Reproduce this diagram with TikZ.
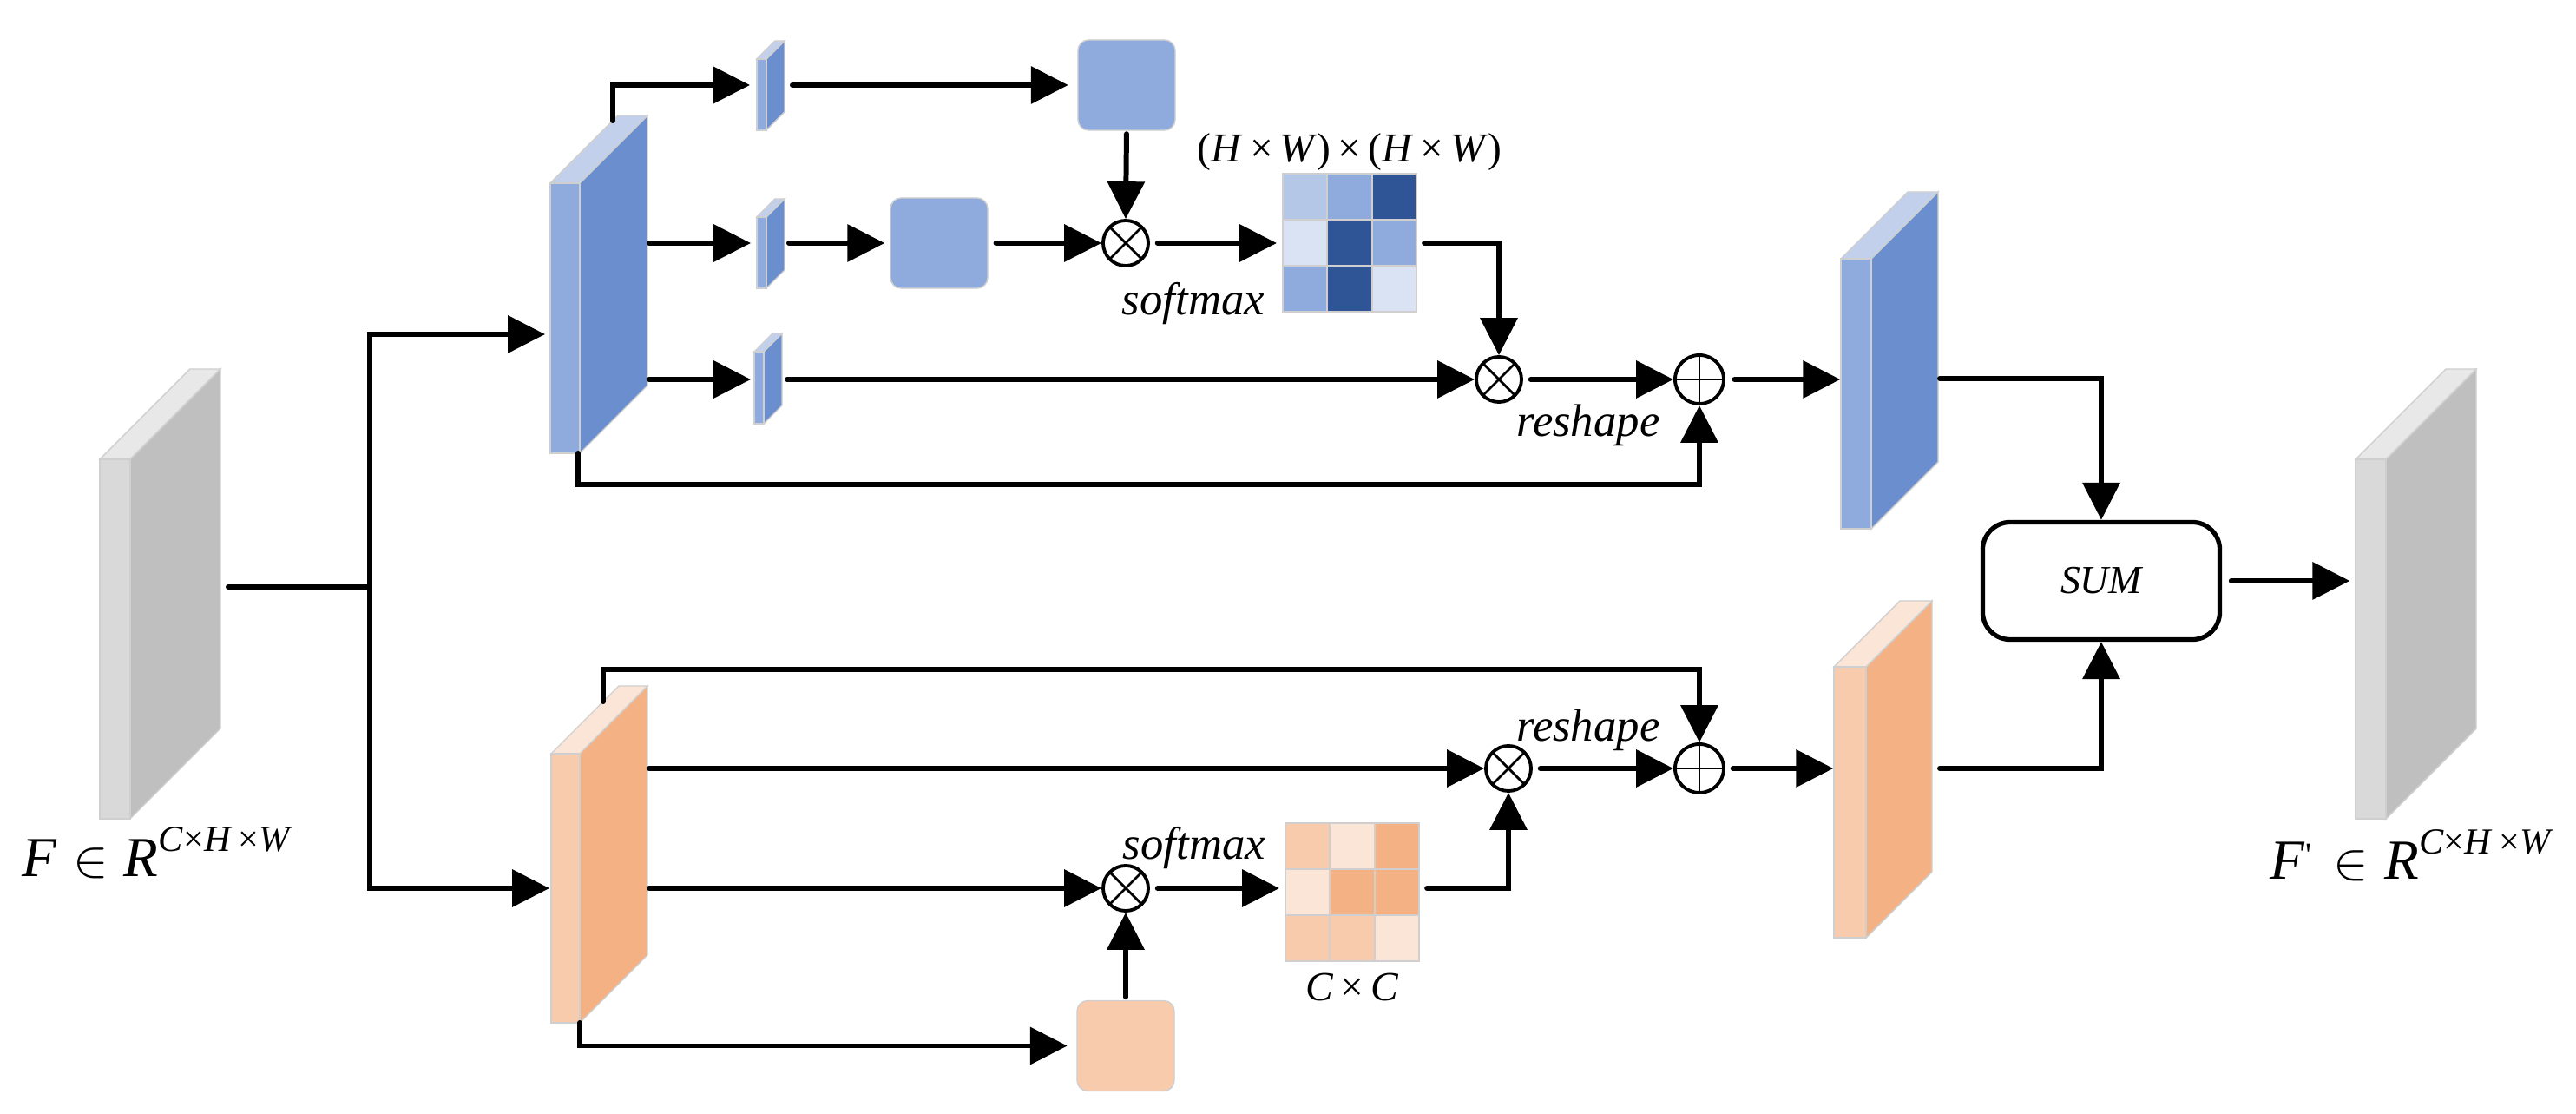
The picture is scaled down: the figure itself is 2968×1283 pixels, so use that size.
\documentclass[tikz,border=0pt]{standalone}
\usepackage{fontspec}
\setmainfont{Liberation Serif}
\usetikzlibrary{arrows.meta,fit,calc}
\definecolor{gF}{HTML}{D9D9D9}\definecolor{gS}{HTML}{BFBFBF}\definecolor{gT}{HTML}{E8E8E8}
\definecolor{bF}{HTML}{8FAADC}\definecolor{bS}{HTML}{6B8ECF}\definecolor{bT}{HTML}{C2D0EC}
\definecolor{oF}{HTML}{F8CBAD}\definecolor{oS}{HTML}{F4B183}\definecolor{oT}{HTML}{FBE5D6}
\definecolor{bD}{HTML}{2F5597}\definecolor{bL}{HTML}{DAE3F3}\definecolor{bM}{HTML}{B4C7E7}
\definecolor{edgec}{HTML}{CFCFCF}\definecolor{gridc}{HTML}{D0CECE}
% slab: name, x1, x2, ytop, ybottom, depth, front, side, top
\newcommand{\slab}[9]{%
  \fill[#8, draw=edgec, line width=0.4pt] (#3,#4) -- (#3+#6,#4-#6) -- (#3+#6,#5-#6) -- (#3,#5) -- cycle;
  \fill[#9, draw=edgec, line width=0.4pt] (#2,#4) -- (#2+#6,#4-#6) -- (#3+#6,#4-#6) -- (#3,#4) -- cycle;
  \node[fit={(#2,#4) (#3,#5)}, inner sep=0pt, fill=#7, draw=edgec, line width=0.4pt] (#1) {};
  \coordinate (#1-r) at (#3+#6,#5);
}
\newcommand{\mcell}[3]{\fill[#3, draw=gridc, line width=0.6pt] (#1,#2) rectangle ++(51.3,53);}
\begin{document}
\begin{tikzpicture}[x=0.01cm, y=-0.01cm,
  ln/.style={line width=1.7pt, line cap=round},
  arr/.style={line width=1.7pt, line cap=round, -{Triangle[length=12.2pt,width=12pt]}},
  otimes/.style={circle, draw, fill=white, line width=1.1pt, minimum size=0.52cm, inner sep=0pt,
    path picture={\draw[line width=0.8pt] (path picture bounding box.north west) -- (path picture bounding box.south east)
      (path picture bounding box.north east) -- (path picture bounding box.south west);}},
  oplus/.style={circle, draw, fill=white, line width=1.1pt, minimum size=0.56cm, inner sep=0pt,
    path picture={\draw[line width=0.8pt] (path picture bounding box.north) -- (path picture bounding box.south)
      (path picture bounding box.west) -- (path picture bounding box.east);}},
  bbox/.style={rounded corners=3.5pt, minimum width=1.12cm, minimum height=1.04cm, inner sep=0pt, draw=edgec, line width=0.4pt},
  lbl/.style={inner sep=0pt, font=\fontsize{15pt}{16pt}\selectfont\itshape},
  dim/.style={inner sep=0pt, font=\fontsize{13.5pt}{14pt}\selectfont},
]
\useasboundingbox (0,0) rectangle (2968,1283);

% ---------- slabs ----------
\slab{gin}{115}{150}{529}{943}{104}{gF}{gS}{gT}
\slab{B1}{634}{668}{211}{522}{78}{bF}{bS}{bT}
\slab{s1}{872}{883}{68}{150}{21}{bF}{bS}{bT}
\slab{s2}{872}{883}{250}{332}{21}{bF}{bS}{bT}
\slab{s3}{869}{880}{405}{488}{21}{bF}{bS}{bT}
\slab{B2}{2121}{2156}{298}{609}{77}{bF}{bS}{bT}
\slab{O1}{635}{668}{868}{1178}{78}{oF}{oS}{oT}
\slab{O2}{2113}{2150}{768}{1080}{76}{oF}{oS}{oT}
\slab{gout}{2714}{2749}{529}{943}{104}{gF}{gS}{gT}

% ---------- boxes ----------
\node[bbox, fill=bF] (q1) at (1298,98) {};
\node[bbox, fill=bF] (q2) at (1082,280) {};
\node[bbox, fill=oF] (q3) at (1297,1204.5) {};

% ---------- matrices ----------
\mcell{1478}{200}{bM}\mcell{1529.3}{200}{bF}\mcell{1580.6}{200}{bD}
\mcell{1478}{253}{bL}\mcell{1529.3}{253}{bD}\mcell{1580.6}{253}{bF}
\mcell{1478}{306}{bF}\mcell{1529.3}{306}{bD}\mcell{1580.6}{306}{bL}
\node[fit={(1478,200) (1632,359)}, inner sep=0pt, draw=gridc, line width=0.6pt] (A1) {};
\mcell{1481}{948}{oF}\mcell{1532.3}{948}{oT}\mcell{1583.6}{948}{oS}
\mcell{1481}{1001}{oT}\mcell{1532.3}{1001}{oS}\mcell{1583.6}{1001}{oS}
\mcell{1481}{1054}{oF}\mcell{1532.3}{1054}{oF}\mcell{1583.6}{1054}{oT}
\node[fit={(1481,948) (1635,1107)}, inner sep=0pt, draw=gridc, line width=0.6pt] (A2) {};

% ---------- operators ----------
\node[otimes] (m1) at (1297,280) {};
\node[otimes] (m2) at (1727,437) {};
\node[oplus]  (p1) at (1958,437) {};
\node[otimes] (m3) at (1297,1023) {};
\node[otimes] (m4) at (1738,885) {};
\node[oplus]  (p2) at (1958,885) {};

\node[draw, line width=1.5pt, rounded corners=9pt, minimum width=2.73cm, minimum height=1.35cm, inner sep=0pt,
  font=\fontsize{13pt}{14pt}\selectfont\itshape] (sum) at (2421,669) {SUM};

% ---------- labels ----------
\node[dim] (t1) at (1555,175) {(\textit{H}\,×\,\textit{W})\,×\,(\textit{H}\,×\,\textit{W})};
\node[lbl] (sm1) at (1375,350) {softmax};
\node[lbl] (rs1) at (1830,490) {reshape};
\node[lbl] (sm2) at (1376,977) {softmax};
\node[lbl] (rs2) at (1830,841) {reshape};
\node[dim] (t2) at (1558,1137) {\textit{C}\,×\,\textit{C}};
\node[anchor=base west, inner sep=0pt] (fin) at (25,1010) {\fontsize{18.5pt}{20pt}\selectfont\textit{F}\hspace{0.28em}$\in$\hspace{0.28em}\textit{R}\raisebox{8.5pt}{\fontsize{12pt}{12pt}\selectfont\textit{C}×\textit{H}\,×\textit{W}}};
\node[anchor=base west, inner sep=0pt] (fout) at (2615,1013) {\fontsize{18.5pt}{20pt}\selectfont\textit{F}\raisebox{4.5pt}{\fontsize{11pt}{11pt}\selectfont\textquotesingle}\hspace{0.4em}$\in$\hspace{0.28em}\textit{R}\raisebox{8.5pt}{\fontsize{12pt}{12pt}\selectfont\textit{C}×\textit{H}\,×\textit{W}}};

% ---------- connectors ----------
\coordinate (split) at (426,676);
\draw[ln] (gin-r |- split) ++(9,0) -- (split);
\draw[arr] (split) |- (628,385);
\draw[arr] (split) |- (633,1023);
% position branch
\draw[arr] (706,139) |- (864,98);
\draw[arr] (748,280) -- (865,280);
\draw[arr] (748,437) -- (865,437);
\draw[arr, shorten >=3pt] (913,98) -- (q1.west);
\draw[arr, shorten >=1.7pt] (909,280) -- (q2.west);
\draw[arr, shorten <=2.5pt] (q2.east) -- (m1.west);
\draw[arr, shorten <=1pt] (q1.south) -- (m1.north);
\draw[arr, shorten <=2.5pt, shorten >=1.7pt] (m1.east) -- (A1.west |- m1.east);
\draw[arr, shorten <=2.3pt] (A1.east |- m1.east) -| (m2.north);
\draw[arr] (907,437) -- (m2.west);
\draw[arr, shorten <=2.5pt] (m2.east) -- (p1.west);
\draw[arr] (666,522) -- (666,558) -| (p1.south);
\draw[arr, shorten <=3pt] (p1.east) -- (B2.west |- p1.east);
\draw[arr] (2235,436) -| (sum.north);
% channel branch
\draw[arr] (695,808) -- (695,771) -| (p2.north);
\draw[arr] (748,885) -- (m4.west);
\draw[arr] (748,1023) -- (m3.west);
\draw[arr, shorten >=3pt] (668,1178) |- (q3.west);
\draw[arr, shorten <=1pt] (q3.north) -- (m3.south);
\draw[arr, shorten <=2.5pt, shorten >=1.7pt] (m3.east) -- (A2.west |- m3.east);
\draw[arr, shorten <=2.3pt] (A2.east |- m3.east) -| (m4.south);
\draw[arr, shorten <=2.5pt] (m4.east) -- (p2.west);
\draw[arr, shorten <=2.5pt] (p2.east) -- (O2.west |- p2.east);
\draw[arr] (2235,885) -| (sum.south);
% output
\draw[arr, shorten <=3pt, shorten >=1.7pt] (sum.east) -- (gout.west |- sum.east);
\end{tikzpicture}
\end{document}
